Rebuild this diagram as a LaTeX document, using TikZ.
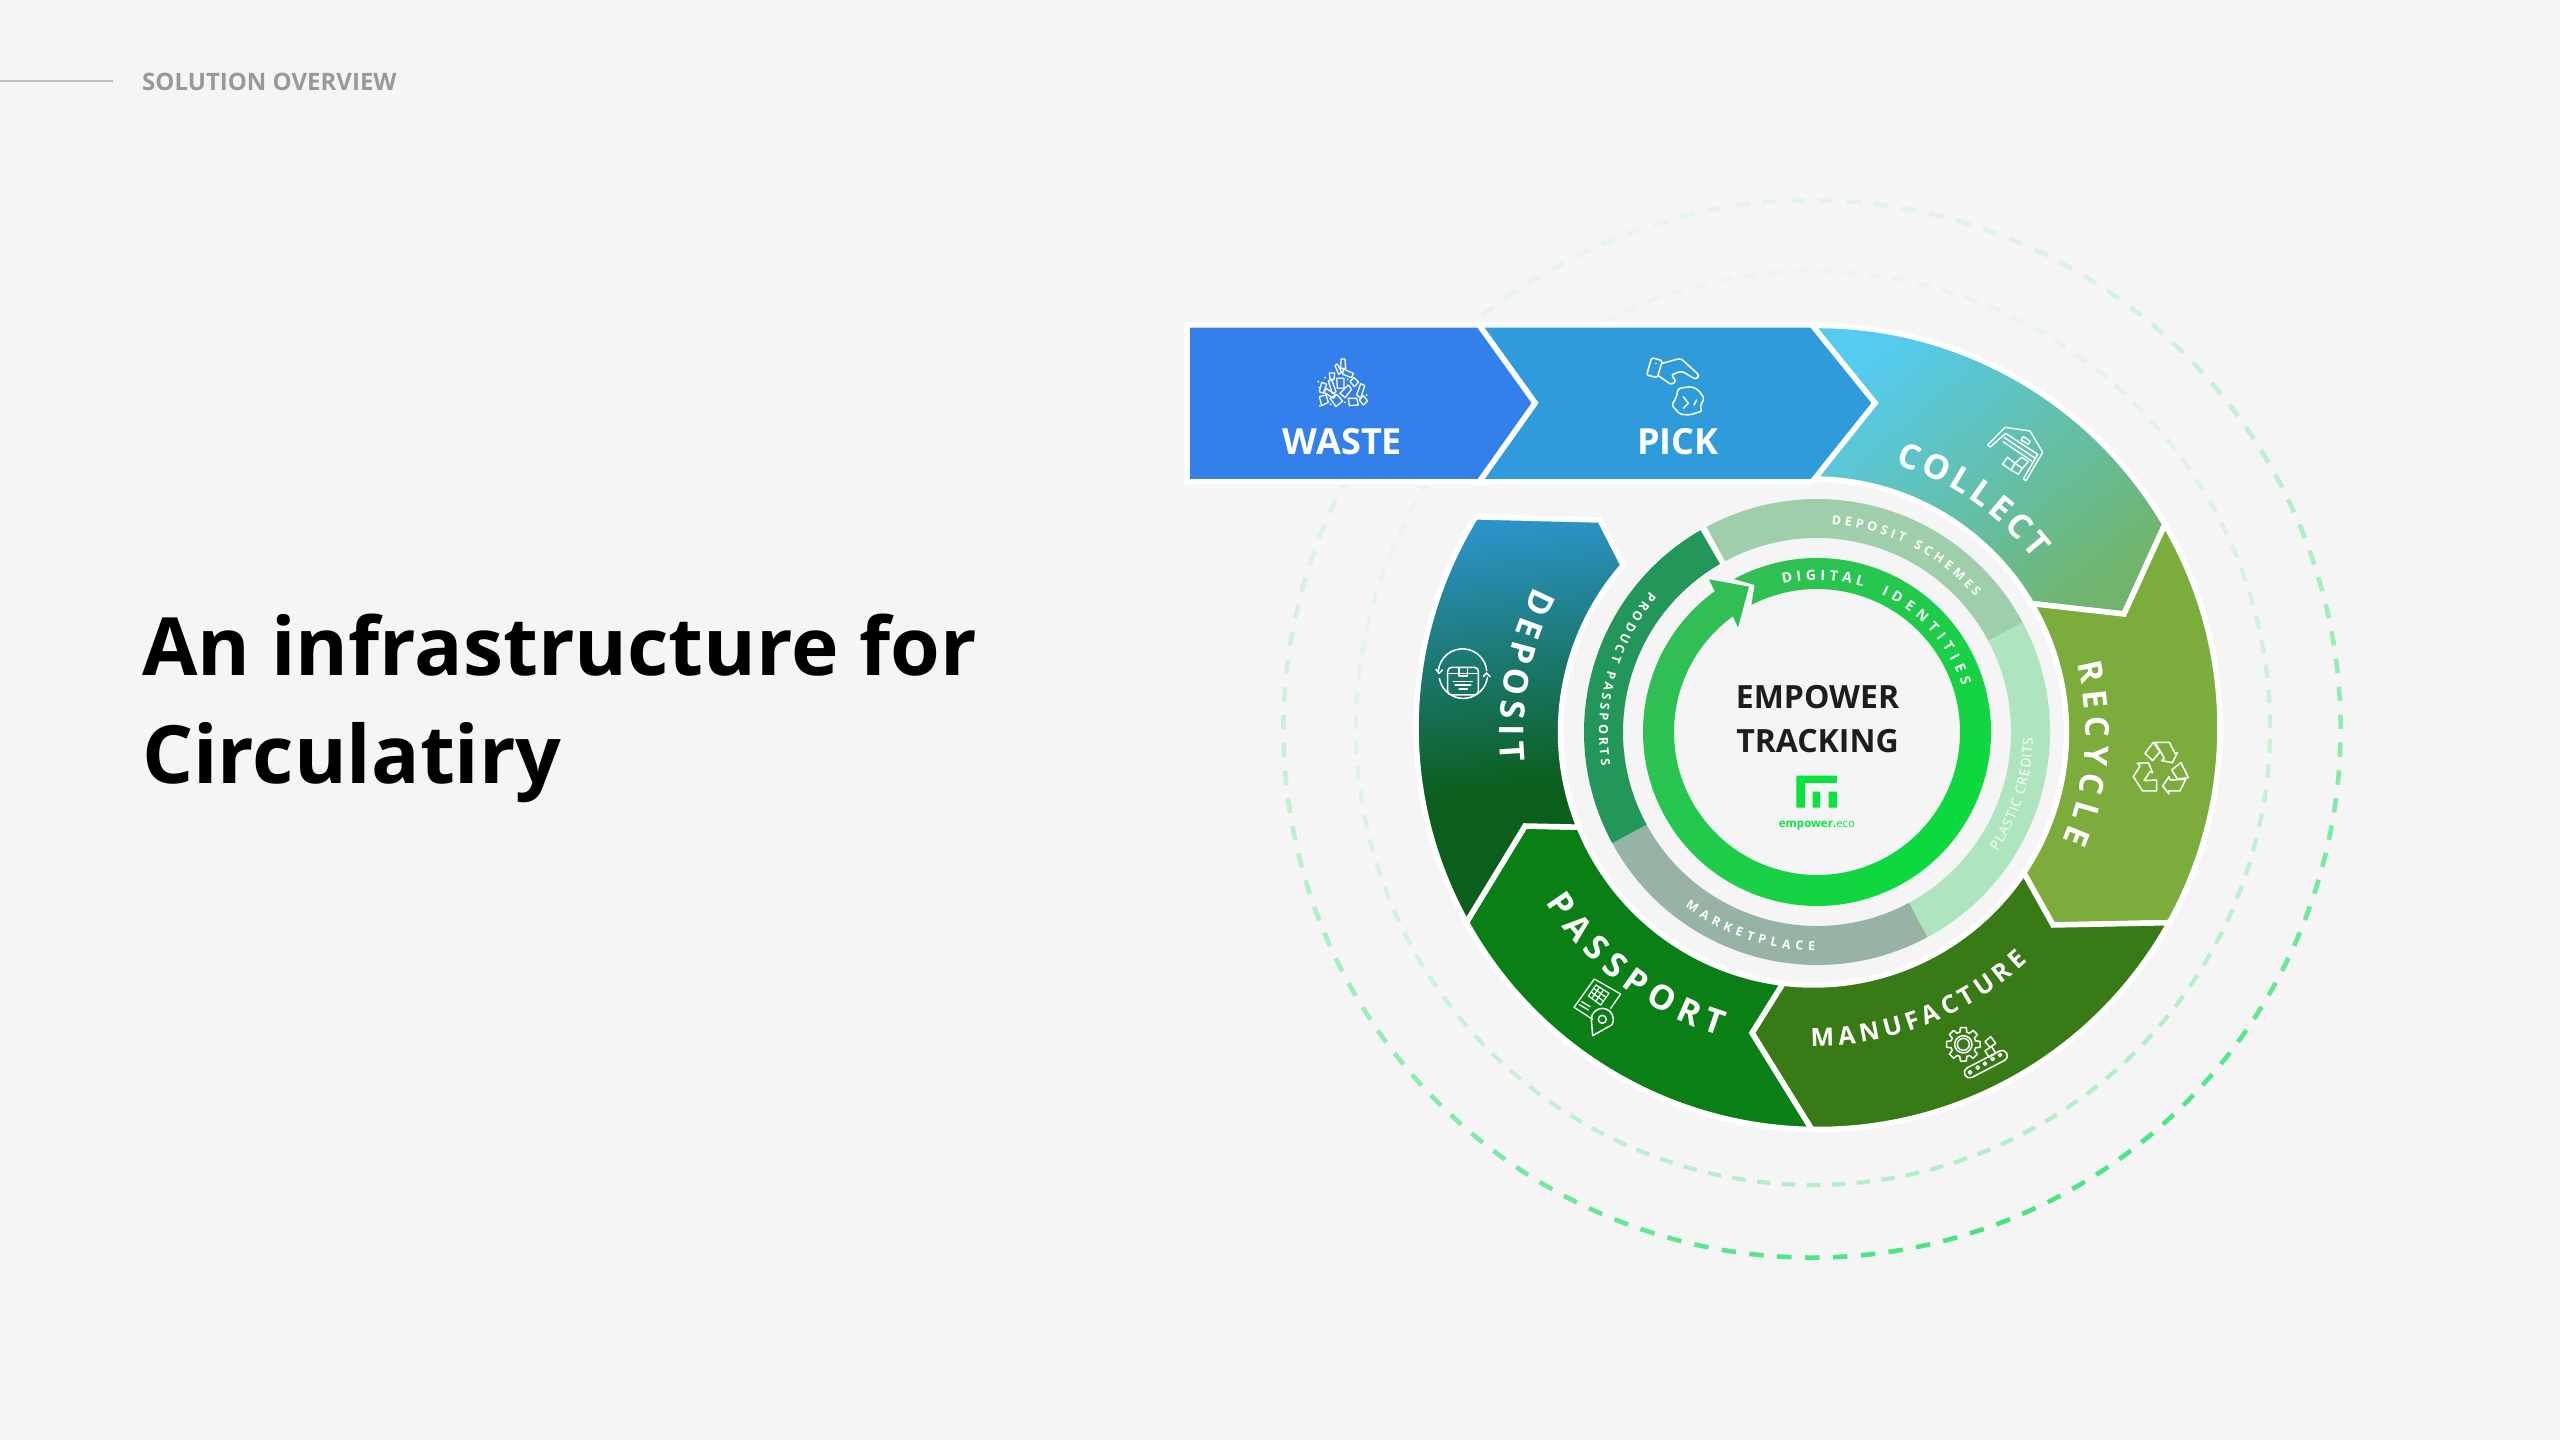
\documentclass[tikz,border=0pt]{standalone}
\usepackage{fontspec}
\setmainfont{Open Sans}
\usetikzlibrary{decorations.text}
\definecolor{pagebg}{HTML}{F5F5F5}
\definecolor{dashG}{HTML}{3AE478}
\definecolor{wasteC}{HTML}{3380EB}
\definecolor{pickC}{HTML}{2F9BDB}
\definecolor{collectA}{HTML}{55CBF0}
\definecolor{collectB}{HTML}{70B56E}
\definecolor{recycleC}{HTML}{7BAC3C}
\definecolor{manuC}{HTML}{387A15}
\definecolor{passC}{HTML}{0A7F15}
\definecolor{depA}{HTML}{2C93C8}
\definecolor{depB}{HTML}{0B5E1C}
\definecolor{dsC}{HTML}{9FCFAA}
\definecolor{pcC}{HTML}{AEE5BE}
\definecolor{mpC}{HTML}{97B3A5}
\definecolor{ppC}{HTML}{23965A}
\definecolor{ringA}{HTML}{36BB58}
\definecolor{ringB}{HTML}{08DC3C}
\definecolor{logoC}{HTML}{0CE23E}
\definecolor{inkC}{HTML}{1D1D1F}
\pgfdeclareverticalshading{depositshade}{100bp}{color(0bp)=(depB); color(41bp)=(depB); color(75bp)=(depA); color(100bp)=(depA)}
\newcommand{\arctext}[7]{% center, radius, start, end, size, weight cmd, text
  \path[decorate,decoration={text along path,text align={fit to path},
    text={|#6\fontsize{#5}{#5}\selectfont\color{white}|#7}}]
    ([shift={(#1)}]#3:#2) arc[start angle=#3,end angle=#4,radius=#2];}
\tikzset{
  segment/.style={draw=white,line width=5.5pt,line join=miter,miter limit=20},
  iconline/.style={draw=white,line width=1.5pt,line join=round,line cap=round},
  iconframe/.style 2 args={shift={(#1,1440-#2)},x=0.3333pt,y=-0.3333pt},
  bigword/.style={font=\bfseries\fontsize{36}{36}\selectfont,text=white,anchor=base,inner sep=0pt},
  midword/.style={font=\bfseries\fontsize{32}{32}\selectfont,text=inkC,anchor=base,inner sep=0pt},
}
\begin{document}
\begin{tikzpicture}[x=1pt,y=1pt]
\useasboundingbox (0,0) rectangle (2560,1440);
\fill[pagebg] (0,0) rectangle (2560,1440);
\coordinate (CO) at (1818,712.5);
\coordinate (CI) at (1813.5,708);
\coordinate (CR) at (1817,708);
% header
\draw[draw=black!25,line width=1.2pt] (0,1359) -- (113,1359);
\node[anchor=base west,inner sep=0pt,text=black!40,font=\bfseries\fontsize{24}{24}\selectfont] (head) at (142,1349.5) {SOLUTION OVERVIEW};
\node[anchor=base west,inner sep=0pt,text=black,font=\bfseries\fontsize{80.4}{80.4}\selectfont] (t1) at (142,764.5) {An infrastructure for};
\node[anchor=base west,inner sep=0pt,text=black,font=\bfseries\fontsize{80.4}{80.4}\selectfont] (t2) at (142,656) {Circulatiry};
% dashed circles
\foreach \i in {0,...,118}{
  \pgfmathsetmacro\ang{\i/119*360}
  \pgfmathsetmacro\mixv{8+85*pow((1.001+cos(\ang+70))/2,1.5)}
  \pgfmathsetmacro\angb{\ang+1.57}
  \draw[draw=dashG!\mixv!pagebg,line width=4.6pt] ([shift={(1812,711)}]\ang:528.6) arc[start angle=\ang,end angle=\angb,radius=528.6];
}
\foreach \i in {0,...,114}{
  \pgfmathsetmacro\ang{\i/115*360}
  \pgfmathsetmacro\mixv{5+32*pow((1.001+cos(\ang+70))/2,1.5)}
  \pgfmathsetmacro\angb{\ang+1.7}
  \draw[draw=dashG!\mixv!pagebg,line width=4.2pt] ([shift={(1813,712)}]\ang:457) arc[start angle=\ang,end angle=\angb,radius=457];
}
% segments
\path[segment,top color=collectA,bottom color=collectB,shading angle=40]
  ([shift={(CO)}]91:402) arc[start angle=91,end angle=30.35,radius=402] -- (2124,826) -- ([shift={(CI)}]30.5:253) arc[start angle=30.5,end angle=90.5,radius=253] -- (1875,1037) -- cycle;
\path[segment,fill=recycleC]
  ([shift={(CO)}]30.35:402) arc[start angle=30.35,end angle=-29.05,radius=402] -- (2053,515) -- ([shift={(CI)}]-33.8:253) arc[start angle=-33.8,end angle=30.5,radius=253] -- (2124,826) -- cycle;
\path[segment,fill=manuC]
  ([shift={(CO)}]-29.05:402) arc[start angle=-29.05,end angle=-90.9,radius=402] -- (1752,407) -- ([shift={(CI)}]-96.9:253) arc[start angle=-96.9,end angle=-33.8,radius=253] -- (2053,515) -- cycle;
\path[segment,fill=passC]
  ([shift={(CO)}]-90.9:402) arc[start angle=-90.9,end angle=-151,radius=402] -- (1525,614) -- ([shift={(CI)}]202.1:253) arc[start angle=202.1,end angle=263.1,radius=253] -- (1752,407) -- cycle;
\path[segment,shade,shading=depositshade,shading angle=6]
  ([shift={(CO)}]148.4:402) arc[start angle=148.4,end angle=209,radius=402] -- (1525,614) -- ([shift={(CI)}]202.1:253) arc[start angle=202.1,end angle=138.8,radius=253] -- (1600,920) -- cycle;
% band
\path[segment,fill=pickC] (1479,1115) -- (1812,1115) -- (1875,1037) -- (1812,958) -- (1479,958) -- (1535,1037) -- cycle;
\path[segment,fill=wasteC] (1187,1115) -- (1479,1115) -- (1535,1037) -- (1479,958) -- (1187,958) -- cycle;
% service ring
\fill[dsC] ([shift={(CR)}]118.3:233) arc[start angle=118.3,end angle=28,radius=233] -- ([shift={(CR)}]28:194) arc[start angle=28,end angle=118.3,radius=194] -- cycle;
\fill[pcC] ([shift={(CR)}]28:233) arc[start angle=28,end angle=-61.7,radius=233] -- ([shift={(CR)}]-61.7:194) arc[start angle=-61.7,end angle=28,radius=194] -- cycle;
\fill[mpC] ([shift={(CR)}]-61.7:233) arc[start angle=-61.7,end angle=-151.5,radius=233] -- ([shift={(CR)}]-151.5:194) arc[start angle=-151.5,end angle=-61.7,radius=194] -- cycle;
\fill[ppC] ([shift={(CR)}]208.5:233) arc[start angle=208.5,end angle=120,radius=233] -- ([shift={(CR)}]120:194) arc[start angle=120,end angle=208.5,radius=194] -- cycle;
\draw[white,line width=5pt] ([shift={(CR)}]119.15:194) -- ([shift={(CR)}]119.15:233);
% arrow ring
\path[top color=ringA,bottom color=ringB,shading angle=50]
  ([shift={(CR)}]118.5:174) arc[start angle=118.5,end angle=-234,radius=174]
  -- (1709,860.7) -- (1749,853.3) -- (1738,812.3)
  -- ([shift={(CR)}]-234:143) arc[start angle=-234,end angle=117.3,radius=143]
  -- (1754.6,855) -- cycle;
% curved labels
\arctext{CI}{280}{73}{38}{34}{\bfseries}{COLLECT}
\arctext{CI}{272}{14.5}{-23.5}{33}{\bfseries}{RECYCLE}
\arctext{CI}{314}{-90.5}{-47}{25}{\bfseries}{MANUFACTURE}
\arctext{CI}{318}{212.5}{253}{34}{\bfseries}{PASSPORT}
\arctext{CI}{314}{152.5}{185.5}{34}{\bfseries}{DEPOSIT}
\arctext{CR}{208}{86}{40.5}{12.5}{\bfseries}{DEPOSIT SCHEMES}
\arctext{CR}{218}{140}{189}{12.5}{\bfseries}{PRODUCT PASSPORTS}
\arctext{CR}{219}{233}{269.5}{12.5}{\bfseries}{MARKETPLACE}
\arctext{CR}{216}{-33.5}{-1.5}{13.5}{}{PLASTIC CREDITS}
\arctext{CR}{152}{103}{72.5}{14}{\bfseries}{DIGITAL}
\arctext{CR}{152}{65}{17.5}{14}{\bfseries}{IDENTITIES}
% band words
\node[bigword] (waste) at (1342.5,985) {WASTE};
\node[bigword] (pick) at (1678,985) {PICK};
% centre
\node[midword] (emp) at (1817.5,731.5) {EMPOWER};
\node[midword] (trk) at (1817.5,687.5) {TRACKING};
\fill[logoC] (1796.4,664.3) rectangle (1837,657) (1796.4,657) rectangle (1805,632.3) (1812.5,648.3) rectangle (1820,632.3) (1828.6,648.3) rectangle (1837,632.3);
\node[anchor=base,inner sep=0pt,text=logoC,font=\fontsize{11.5}{11.5}\selectfont] (logo) at (1817,612) {\textbf{empower.}eco};
% icons: waste and pick
\begin{scope}[iconframe={1300}{345}]
  \foreach \p in {
    {(123,42)--(135,42)--(137,70)--(122,70)},
    {(105,62)--(112,57)--(125,82)--(116,88)},
    {(130,72)--(160,85)--(155,98)--(128,88)},
    {(88,84)--(104,84)--(102,104)--(90,102)},
    {(110,100)--(132,100)--(132,130)--(112,130)},
    {(150,110)--(162,98)--(176,112)--(163,125)},
    {(65,112)--(80,118)--(70,145)--(58,140)},
    {(85,108)--(95,104)--(108,140)--(97,146)},
    {(120,145)--(145,120)--(155,133)--(135,158)},
    {(170,150)--(182,116)--(194,122)--(182,160)},
    {(58,155)--(78,150)--(85,172)--(65,182)},
    {(90,160)--(110,148)--(128,168)--(108,185)},
    {(145,160)--(170,160)--(175,180)--(148,182)},
    {(178,165)--(190,152)--(203,168)--(190,180)},
    {(78,130)--(108,150)--(100,160)--(72,142)}}
    {\draw[iconline,line width=1.3pt] \p -- cycle;}
  \foreach \q in {(55,110),(75,98),(143,103),(60,183),(200,150),(135,172),(92,178),(58,128)}
    {\fill[white] \q circle (3);}
  \draw[iconline,rounded corners=1.5pt] (1055,38) -- (1087,47) -- (1072,98) -- (1040,90) -- cycle;
  \fill[white] (1068,55) circle (2.5);
  \draw[iconline,rounded corners=3pt] (1087,55) -- (1142,40) -- (1199,92) -- (1188,104) -- (1145,78) -- (1113,90) -- (1129,108) -- (1115,120) -- (1075,92);
  \draw[iconline,rounded corners=2pt] (1135,130) -- (1175,125) -- (1195,135) -- (1213,160) -- (1200,185) -- (1207,198) -- (1170,210) -- (1140,208) -- (1115,180) -- (1128,160) -- cycle;
  \draw[iconline] (1150,155) -- (1165,175) -- (1150,190) (1190,165) -- (1182,180);
\end{scope}
% collect icon
\begin{scope}[iconframe={1975}{415}]
  \draw[iconline,line width=1.4pt] (46,96) -- (38,90) -- (90,37) -- (165,48) -- (203,112) -- (153,197) -- (145,192);
  \draw[iconline,line width=1.4pt] (46,96) -- (92,55) -- (188,118) -- (145,192);
  \draw[iconline,line width=1.4pt] (88,68) -- (178,128) (84,80) -- (170,138);
  \draw[iconline,line width=1.4pt] (97,127) -- (120,145) -- (108,165) -- (83,148) -- cycle (120,145) -- (142,160) -- (130,178) -- (108,165) (140,127) -- (160,140) -- (142,160) -- (120,145) -- cycle;
  \draw[iconline,line width=1.4pt] (145,65) -- (165,78) -- (160,88) -- (138,75) -- cycle;
\end{scope}
% recycle icon
\begin{scope}[iconframe={2120}{730}]
  \draw[iconline] (75,70) -- (100,37) -- (120,65) -- (98,92) -- cycle;
  \draw[iconline] (105,37) -- (148,37) -- (165,70) -- (172,68) -- (157,98) -- (125,92) -- (133,85) -- (110,45) -- cycle;
  \draw[iconline] (40,140) -- (60,108) -- (52,100) -- (85,98) -- (98,128) -- (90,125) -- (72,152) -- (110,150) -- (110,183) -- (68,183) -- cycle;
  \draw[iconline] (155,120) -- (183,98) -- (205,143) -- (172,147) -- cycle;
  \draw[iconline] (197,148) -- (180,183) -- (145,183) -- (147,192) -- (128,168) -- (147,140) -- (150,150) -- cycle;
\end{scope}
% manufacture icon
\begin{scope}[iconframe={1930}{1015}]
  \foreach \k in {0,45,...,315}{
    \draw[iconline,shift={(100,88)}] (\k-16:38) -- (\k-10:51) -- (\k+10:51) -- (\k+16:38) -- (\k+29:38);
  }
  \draw[iconline] (100,88) circle (26) (100,88) circle (18);
  \draw[iconline,rounded corners=5pt] (97.6,165.8) -- (222.6,100.8) -- (237.4,129.2) -- (112.4,194.2) -- cycle;
  \foreach \c in {(120,172),(143,158),(165,146),(188,132),(210,120)}{\draw[iconline] \c circle (5);}
  \draw[iconline] (165,107) -- (185,95) -- (197,115) -- (177,127) -- cycle (165,80) -- (182,65) -- (197,85) -- (180,97) -- cycle;
\end{scope}
% passport icon
\begin{scope}[iconframe={1560}{970}]
  \draw[iconline,line width=1.3pt] (98,148) -- (42,112) -- (103,27) -- (182,72) -- (152,115);
  \draw[iconline,line width=1.2pt] (108,45) -- (147,70) -- (122,105) -- (85,78) -- cycle;
  \draw[iconline,line width=1.2pt] (101,55) -- (138,82) (93,66) -- (130,93) (118,52) -- (95,86) (130,60) -- (107,94);
  \draw[iconline,line width=1.3pt] (57,103) -- (85,120) (65,95) -- (90,110);
  \draw[iconline] (98,197) -- (94,148) arc[start angle=180,end angle=390,radius=33] -- cycle;
  \draw[iconline] (127,148) circle (12);
\end{scope}
% deposit icon
\begin{scope}[iconframe={1400}{500}]
  \draw[iconline] (115,512) arc[start angle=186,end angle=354,radius=73];
  \draw[iconline] (118,535) arc[start angle=170,end angle=8,radius=73];
  \draw[iconline] (108,508) -- (117,520) -- (127,510) (250,530) -- (260,519) -- (270,530);
  \draw[iconline,rounded corners=4pt] (143,502) -- (235,502) -- (235,585) -- (143,585) -- cycle;
  \draw[iconline] (143,520) -- (235,520) (177,502) -- (177,528) -- (203,528) -- (203,502);
  \draw[iconline] (160,545) -- (217,545) (165,555) -- (212,555) (177,567) -- (202,567);
\end{scope}
\end{tikzpicture}
\end{document}
